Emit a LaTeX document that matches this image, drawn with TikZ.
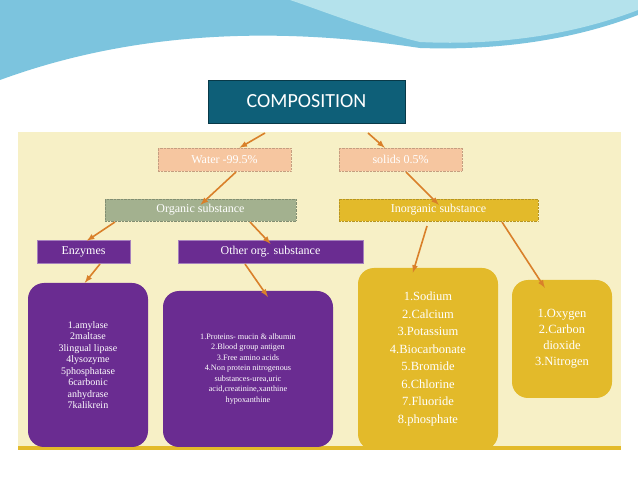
\documentclass[tikz,border=0pt]{standalone}
\usepackage{fontspec}
\setmainfont{Liberation Serif}
\newfontfamily\calfont{Carlito}
\begin{document}
\begin{tikzpicture}[x=1pt,y=-1pt,
 hb/.style={draw=#1!80!black,densely dotted,fill=#1,text=white,inner sep=0,font=\fontsize{12}{12}\selectfont},
 rb/.style={fill=#1,rounded corners=16pt,text=white,align=center,inner sep=0},
 ar/.style={-latex,draw=arr,line width=1.6pt}]
\definecolor{teal}{HTML}{0E5F78}\definecolor{panel}{HTML}{F7F0C6}
\definecolor{peach}{HTML}{F6C6A0}\definecolor{sage}{HTML}{A3B18F}
\definecolor{gold}{HTML}{E3BA2A}\definecolor{purp}{HTML}{6A2C91}
\definecolor{arr}{HTML}{D9802A}\definecolor{sky}{HTML}{7CC4DE}\definecolor{sky2}{HTML}{B4E2EC}
\useasboundingbox (0,0) rectangle (638,478);
\fill[white] (0,0) rectangle (638,478);
% wave
\fill[sky] (0,0) -- (638,0) -- (638,15) .. controls (560,45) and (480,50) .. (420,48) .. controls (300,30) and (150,25) .. (0,80) -- cycle;
\fill[sky2] (290,0) -- (638,0) -- (638,10) .. controls (560,40) and (480,45) .. (420,42) .. controls (370,30) and (320,10) .. (290,0) -- cycle;
\fill[white] (0,85) .. controls (100,40) and (250,30) .. (420,52) .. controls (500,60) and (600,40) .. (638,20) -- (638,25) .. controls (600,50) and (500,65) .. (420,58) .. controls (250,40) and (100,50) .. (0,90) -- cycle;
\fill[panel] (18,132) rectangle (621,450);
\fill[gold] (18,446) rectangle (621,450);
\node[draw=teal!60!black,fill=teal,minimum width=197,minimum height=43,inner sep=0,text=white,font=\calfont\fontsize{20}{20}\selectfont] (comp) at (306.5,101.5) {COMPOSITION};
\node[hb=peach,minimum width=133,minimum height=23] (water) at (224.5,159.5) {Water -99.5\%};
\node[hb=peach,minimum width=123,minimum height=23] (solids) at (400.5,159.5) {solids 0.5\%};
\node[hb=sage,minimum width=191,minimum height=22] (org) at (200.5,210) {Organic substance};
\node[hb=gold,minimum width=199,minimum height=22] (inorg) at (438.5,210) {Inorganic substance};
\node[hb=purp,draw=purp!60!white,solid,minimum width=93,minimum height=23] (enz) at (83.5,251.5) {Enzymes};
\node[hb=purp,draw=purp!60!white,solid,minimum width=185,minimum height=23] (other) at (270.5,251.5) {Other org. substance};
\node[rb=purp,minimum width=120,minimum height=164,font=\fontsize{10}{11.5}\selectfont] (b1) at (88,365) {1.amylase\\2maltase\\3lingual lipase\\4lysozyme\\5phosphatase\\6carbonic\\anhydrase\\7kalikrein};
\node[rb=purp,minimum width=170,minimum height=156,font=\fontsize{8.2}{10.5}\selectfont] (b2) at (248,369) {1.Proteins- mucin \& albumin\\2.Blood group antigen\\3.Free amino acids\\4.Non protein nitrogenous\\substances-urea,uric\\acid,creatinine,xanthine\\hypoxanthine};
\node[rb=gold,minimum width=140,minimum height=182,font=\fontsize{12.5}{17.5}\selectfont] (b3) at (428,359) {1.Sodium\\2.Calcium\\3.Potassium\\4.Biocarbonate\\5.Bromide\\6.Chlorine\\7.Fluoride\\8.phosphate};
\node[rb=gold,minimum width=100,minimum height=118,font=\fontsize{12.5}{16}\selectfont] (b4) at (562,339) {1.Oxygen\\2.Carbon\\dioxide\\3.Nitrogen};
\coordinate (c1) at (265,133); \coordinate (c2) at (368,133);
\coordinate (w1) at (236,172); \coordinate (s1) at (406,172);
\coordinate (o1) at (115,222); \coordinate (o2) at (250,222);
\coordinate (i1) at (427,226); \coordinate (i2) at (502,222);
\coordinate (e1) at (100,264); \coordinate (t1) at (245,264);
\draw[ar] (c1) -- ([xshift=15pt]water.north);
\draw[ar] (c2) -- ([xshift=46pt]solids.north west);
\draw[ar] (w1) -- ([yshift=-6pt]org.north);
\draw[ar] (s1) -- ([xshift=100pt,yshift=-6pt]inorg.north west);
\draw[ar] (o1) -- ([xshift=50pt,yshift=-1pt]enz.north west);
\draw[ar] (o2) -- ([yshift=-4pt]other.north);
\draw[ar] (i1) -- ([xshift=55pt,yshift=-5pt]b3.north west);
\draw[ar] (i2) -- ([xshift=33pt,yshift=-8pt]b4.north west);
\draw[ar] (e1) -- ([xshift=57pt]b1.north west);
\draw[ar] (t1) -- ([xshift=105pt,yshift=-6pt]b2.north west);
\end{tikzpicture}
\end{document}
